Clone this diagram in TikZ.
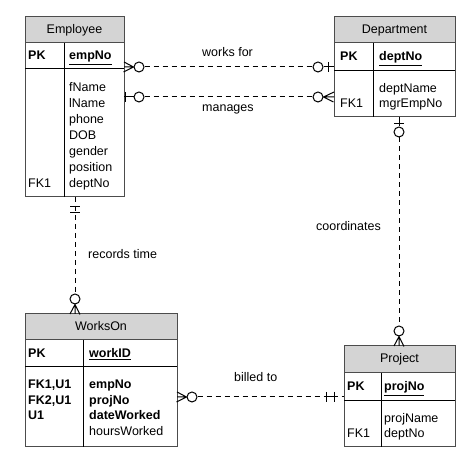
\documentclass[tikz,border=0pt]{standalone}
\usepackage{fontspec}
\setmainfont{Liberation Sans}

\begin{document}
\begin{tikzpicture}[x=1pt, y=-1pt, font=\fontsize{12.5}{15}\selectfont,
	box/.style={draw=black!70, line width=1pt, outer sep=0pt, inner sep=0pt, anchor=north west},
	head/.style={box, fill=black!17},
	rel/.style={dash pattern=on 5pt off 4pt, line width=1pt},
	ring/.style={circle, draw, fill=white, line width=1pt, inner sep=0pt, minimum size=10pt},
	txt/.style={anchor=base west, inner sep=0pt},
	title/.style={anchor=base, inner sep=0pt}]
\useasboundingbox (0,0) rectangle (475,462);

% Employee
\node[head, minimum width=99pt, minimum height=26pt] (emp) at (25,17) {};
\node[box, minimum width=99pt, minimum height=154pt] (empB) at (25,43) {};
\draw[line width=1pt] (25,69)--(124,69) (64,43)--(64,197);
\node[title] (empT) at (74.5,34) {Employee};
\node[txt] (empPK) at (28,60) {\textbf{PK}};
\node[txt] (empK) at (69,60) {\textbf{\underline{empNo}}};
\foreach \y/\a in {92/fName,108/lName,124/phone,140/DOB,156/gender,172/position,188/deptNo}{
	\node[txt] (emp\y) at (69,\y) {\a};
}
\node[txt] (empFK) at (28,188) {FK1};

% Department
\node[head, minimum width=121pt, minimum height=26pt] (dept) at (334,17) {};
\node[box, minimum width=121pt, minimum height=74pt] (deptB) at (334,43) {};
\draw[line width=1pt] (334,71)--(455,71) (373,43)--(373,117);
\node[title] (deptT) at (394.5,34) {Department};
\node[txt] (deptPK) at (340,61) {\textbf{PK}};
\node[txt] (deptK) at (379,61) {\textbf{\underline{deptNo}}};
\node[txt] (dept92) at (379,92.5) {deptName};
\node[txt] (dept108) at (379,108) {mgrEmpNo};
\node[txt] (deptFK) at (340,108) {FK1};

% WorksOn
\node[head, minimum width=152pt, minimum height=26pt] (won) at (25,314) {};
\node[box, minimum width=152pt, minimum height=107pt] (wonB) at (25,340) {};
\draw[line width=1pt] (25,367)--(177,367) (83,340)--(83,447);
\node[title] (wonT) at (101,331) {WorksOn};
\node[txt] (wonPK) at (28,358) {\textbf{PK}};
\node[txt] (wonK) at (89,358) {\textbf{\underline{workID}}};
\foreach \y/\k/\a in {389/FK1{,}U1/empNo,405/FK2{,}U1/projNo,420/U1/dateWorked}{
	\node[txt] (wonK\y) at (28,\y) {\textbf{\k}};
	\node[txt] (won\y) at (89,\y) {\textbf{\a}};
}
\node[txt] (won436) at (89,436) {hoursWorked};

% Project
\node[head, minimum width=111pt, minimum height=27pt] (proj) at (344,346) {};
\node[box, minimum width=111pt, minimum height=74pt] (projB) at (344,373) {};
\draw[line width=1pt] (344,401)--(455,401) (381,373)--(381,447);
\node[title] (projT) at (399.5,363) {Project};
\node[txt] (projPK) at (347,391) {\textbf{PK}};
\node[txt] (projK) at (384,391) {\textbf{\underline{projNo}}};
\node[txt] (proj423) at (384,423) {projName};
\node[txt] (proj438) at (384,438) {deptNo};
\node[txt] (projFK) at (347,438) {FK1};

% works for
\node[ring] (wfE) at (139,67) {};
\node[ring] (wfD) at (318,67) {};
\draw[rel] (wfE) -- (wfD);
\draw[line width=1pt] (empB.east |- wfE) -- (wfE.west)
	(empB.east |- wfE) ++(0,-5) -- (wfE.west) -- ++(-10,5);
\draw[line width=1pt] (wfD.east) -- (deptB.west |- wfD) (wfD.east) ++(5,-5) -- ++(0,10);
\node[txt] (wfL) at (202,57) {works for};

% manages
\node[ring] (mgE) at (139,97) {};
\node[ring] (mgD) at (318,97) {};
\draw[rel] (mgE) -- (mgD);
\draw[line width=1pt] (empB.east |- mgE) -- (mgE.west) (mgE.west) ++(-8,-5) -- ++(0,10);
\draw[line width=1pt] (mgD.east) -- (deptB.west |- mgD)
	(deptB.west |- mgD) ++(0,-5) -- (mgD.east) -- ++(10,5);
\node[txt] (mgL) at (202,112) {manages};

% records time
\coordinate (rtE) at (empB.south -| 75,0);
\node[ring] (rtW) at (75,299) {};
\draw[rel] (rtE) -- (rtW);
\draw[line width=1pt] (rtE) ++(-5,10) -- ++(10,0) (rtE) ++(-5,16) -- ++(10,0);
\draw[line width=1pt] (rtW.south) -- (won.north -| rtW)
	(won.north -| rtW) ++(-5,0) -- (rtW.south) -- ++(5,10);
\node[txt] (rtL) at (88,259) {records time};

% coordinates
\node[ring] (coD) at (399,132) {};
\node[ring] (coP) at (399,331) {};
\draw[rel] (coD) -- (coP);
\draw[line width=1pt] (deptB.south -| coD) -- (coD.north) (coD.north) ++(-5,-3) -- ++(10,0);
\draw[line width=1pt] (coP.south) -- (proj.north -| coP)
	(proj.north -| coP) ++(-5,0) -- (coP.south) -- ++(5,10);
\node[txt] (coL) at (316,231) {coordinates};

% billed to
\node[ring] (btW) at (192,397) {};
\coordinate (btP) at (projB.west |- btW);
\draw[rel] (btW) -- (btP);
\draw[line width=1pt] (wonB.east |- btW) -- (btW.west)
	(wonB.east |- btW) ++(0,-5) -- (btW.west) -- ++(-10,5);
\draw[line width=1pt] (btP) ++(-18,-5) -- ++(0,10) (btP) ++(-10,-5) -- ++(0,10)
	(btP) ++(-18,0) -- ++(8,0);
\node[txt] (btL) at (234,382) {billed to};

\end{tikzpicture}
\end{document}
